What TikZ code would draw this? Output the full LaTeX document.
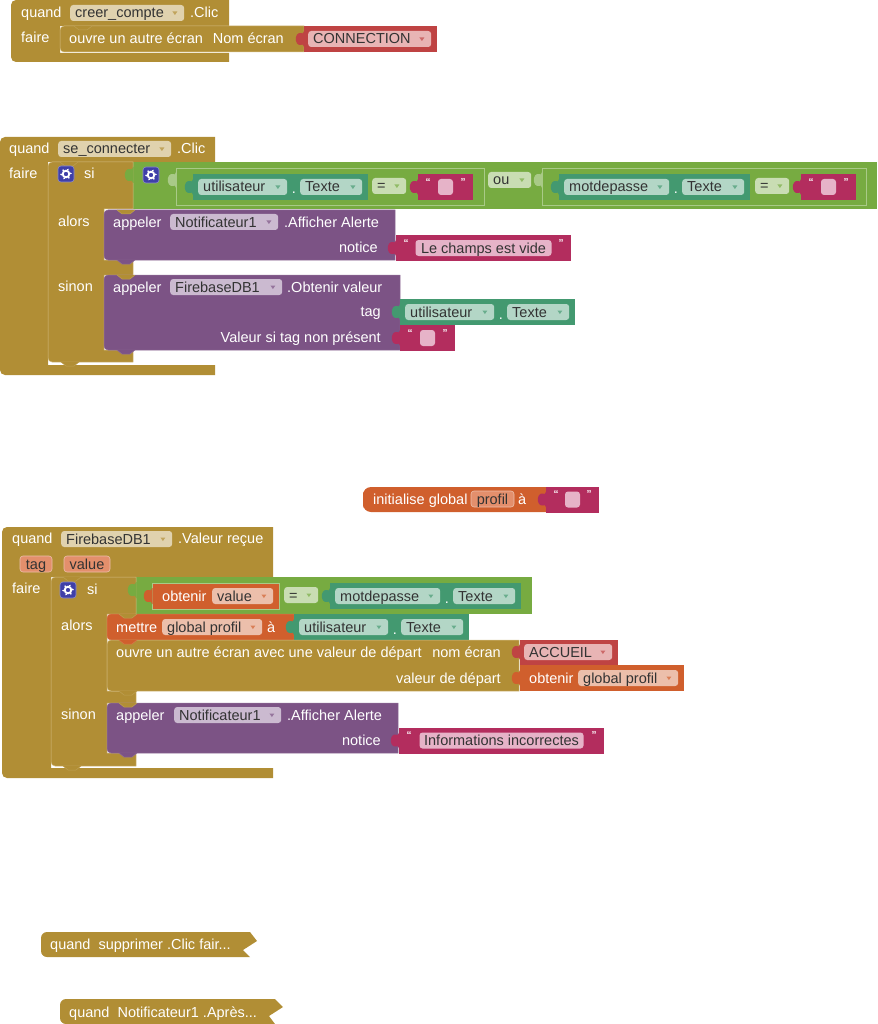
\documentclass[tikz,border=0pt]{standalone}
\usepackage{fontspec}
\setmainfont{Liberation Sans}
\definecolor{gold}{HTML}{B18E35}
\definecolor{goldl}{HTML}{D3BD84}
\definecolor{goldf}{HTML}{E0D2AE}
\definecolor{purp}{HTML}{7C5385}
\definecolor{purpf}{HTML}{CBBAD0}
\definecolor{crim}{HTML}{B32D5E}
\definecolor{crimf}{HTML}{E6B3C8}
\definecolor{redb}{HTML}{BF4343}
\definecolor{redf}{HTML}{E8B4B4}
\definecolor{teal}{HTML}{439970}
\definecolor{tealf}{HTML}{B3D6C6}
\definecolor{grn}{HTML}{77AB41}
\definecolor{grnl}{HTML}{A9CA87}
\definecolor{grnf}{HTML}{C9DDB3}
\definecolor{orng}{HTML}{D05F2D}
\definecolor{orngf}{HTML}{ECBFAB}
\definecolor{salm}{HTML}{E38F6C}
\definecolor{gearb}{HTML}{3F3FA8}
\tikzset{
  lab/.style={inner sep=0pt, text=white, font=\fontsize{14.5}{16}\selectfont, text height=11.5pt, text depth=1.5pt},
  lw/.style={lab, anchor=west},
  le/.style={lab, anchor=east},
  fld/.style={rounded corners=3pt, inner ysep=0pt, inner xsep=5pt, minimum height=16pt, text=black!80, anchor=west, font=\fontsize{14.5}{16}\selectfont, text height=11.5pt, text depth=1.5pt},
  quo/.style={inner sep=0pt, text=white, font=\fontsize{10}{10}\selectfont\bfseries}
}
% block parts
\newcommand{\stmt}[5]{\filldraw[fill=#5, draw=#5!85!white, line width=.5pt, rounded corners=4pt] (#1,#2+10) -- (#1,#2) [sharp corners] -- (#3,#2) -- (#3,#4) [rounded corners=4pt] -- (#1,#4) -- cycle;}
\newcommand{\plug}[3]{\fill[#3] (#1+.5,#2-8) -- (#1,#2-8) .. controls (#1-1,#2-5) and (#1-2,#2-5) .. (#1-3,#2-6) .. controls (#1-10,#2-7) and (#1-10,#2+7) .. (#1-3,#2+6) .. controls (#1-2,#2+5) and (#1-1,#2+5) .. (#1,#2+8) -- (#1+.5,#2+8) -- cycle;}
\newcommand{\bump}[3]{\filldraw[fill=#3, draw=#3!85!white, line width=.5pt] (#1-9,#2) -- (#1-4,#2+4) -- (#1+4,#2+4) -- (#1+9,#2);}
\newcommand{\fld}[7]{\node[fld, fill=#5, minimum width=#4pt] (#1) at (#2,#3) {\makebox[\dimexpr#4pt-10pt\relax][l]{#7}};
  \fill[#6!80!white] ([xshift=-12pt,yshift=1.5pt]#1.east) -- ([xshift=-7pt,yshift=1.5pt]#1.east) -- ([xshift=-9.5pt,yshift=-2pt]#1.east) -- cycle;}
\newcommand{\strblock}[6]{\fill[crim] (#2,#3-13) rectangle (#2+#4,#3+13);
  \plug{#2}{#3}{crim}
  \node[quo] (#1a) at (#2+10,#3-5) {“};
  \node[fld, fill=crimf, minimum width=#5pt, inner xsep=0pt, anchor=center] (#1) at (#2+#4/2,#3) {#6};
  \node[quo] (#1b) at (#2+#4-10,#3-5) {”};}
\newcommand{\propblock}[5]{\fill[teal] (#2,#3-13) rectangle (#2+#5+86,#3+13);
  \plug{#2}{#3}{teal}
  \fld{#1a}{#2+5}{#3}{#5}{tealf}{teal}{#4}
  \node[lab] (#1d) at (#2+#5+12,#3+2) {.};
  \fld{#1b}{#2+#5+18}{#3}{62}{tealf}{teal}{Texte}}
\newcommand{\gear}[3]{\node[fill=gearb, draw=gearb!60!white, line width=.6pt, rounded corners=3pt, minimum size=16pt, inner sep=0pt] (#1) at (#2,#3) {};
  \draw[white, line width=1.9pt] (#2,#3) circle (3.3pt);
  \foreach \a in {0,60,...,300} {\fill[white] (#2,#3) ++(\a:3.4pt) -- ++(\a+50:2pt) -- ++(\a-50:2pt) -- cycle;}}

\begin{document}
\begin{tikzpicture}[x=1pt, y=-1pt]
\useasboundingbox (0,0) rectangle (877,1024);
% creer_compte
\fill[gold, rounded corners=5pt] (11,30) -- (11,0) [sharp corners] -- (229,0) -- (229,26) -- (60,26) -- (60,53) -- (229,53) -- (229,62) [rounded corners=5pt] -- (11,62) -- cycle;
\filldraw[fill=gold, draw=goldl, line width=.5pt, rounded corners=4pt] (60,36) -- (60,26) [sharp corners] -- (304,26) -- (304,52) [rounded corners=4pt] -- (60,52) -- cycle;
\bump{83}{26}{gold}
\fill[redb] (304,26) rectangle (437,52);
\plug{304}{39}{redb}
\node[lw] (q1) at (21,13) {quand};
\fld{f1}{70}{13}{114}{goldf}{gold}{creer\_compte}
\node[lw] (c1) at (190,13) {.Clic};
\node[lw] (fa1) at (21,38) {faire};
\node[lw] (ouv1) at (69,39) {ouvre un autre écran};
\node[le] (nom1) at (284,39) {Nom écran};
\fld{f2}{308}{39}{123}{redf}{redb}{CONNECTION}
% se_connecter
\fill[gold, rounded corners=5pt] (0,150) -- (0,137) [sharp corners] -- (215,137) -- (215,162) -- (48,162) -- (48,365) -- (215,365) -- (215,375) [rounded corners=5pt] -- (0,375) -- cycle;
\fill[grn] (133,162) rectangle (877,209);
\filldraw[fill=gold, draw=goldl, line width=.5pt, rounded corners=4pt] (48,175) -- (48,162) [sharp corners] -- (133,162) -- (133,209) -- (104,209) -- (104,260) -- (133,260) -- (133,275) -- (104,275) -- (104,350) -- (133,350) -- (133,362) [rounded corners=4pt] -- (48,362) -- cycle;
\plug{133}{175}{grn}
\bump{69}{162}{gold}
\bump{70}{362}{gold}
\gear{g1}{66}{174}
\gear{g2}{151}{175}
\node[lw] (q2) at (9,149) {quand};
\fld{f3}{58}{149}{113}{goldf}{gold}{se\_connecter}
\node[lw] (c2) at (177,149) {.Clic};
\node[lw] (fa2) at (9,174) {faire};
\node[lw] (si1) at (84,174) {si};
\node[lw] (al1) at (58,221) {alors};
\node[lw] (sn1) at (58,286) {sinon};
% premier test
\filldraw[fill=grn, draw=grnl, line width=.6pt] (176,168) rectangle (484,205);
\plug{176}{180}{grnl}
\propblock{p1}{193}{187}{utilisateur}{89}
\fld{e1}{372}{186}{34}{grnf}{grn}{=}
\strblock{s1}{418}{187}{55}{15}{}
\fld{ou1}{488}{180}{43}{grnf}{grn}{ou}
% second test
\filldraw[fill=grn, draw=grnl, line width=.6pt] (542,168) rectangle (866,205);
\plug{542}{180}{grnl}
\propblock{p2}{559}{187}{motdepasse}{105}
\fld{e2}{755}{186}{34}{grnf}{grn}{=}
\strblock{s2}{801}{187}{55}{15}{}
% alors
\stmt{104}{210}{395}{260}{purp}
\bump{126}{210}{gold}
\bump{126}{260}{purp}
\node[lw] (ap1) at (113,222) {appeler};
\fld{f4}{170}{222}{108}{purpf}{purp}{Notificateur1}
\node[lw] (af1) at (284,222) {.Afficher Alerte};
\node[le] (no1) at (378,247) {notice};
\strblock{s3}{396}{248}{175}{136}{Le champs est vide}
% sinon
\stmt{104}{275}{400}{350}{purp}
\bump{126}{275}{gold}
\bump{126}{350}{purp}
\node[lw] (ap2) at (113,287) {appeler};
\fld{f5}{170}{287}{112}{purpf}{purp}{FirebaseDB1}
\node[lw] (ob1) at (287,287) {.Obtenir valeur};
\node[le] (ta1) at (381,311) {tag};
\node[le] (va1) at (381,337) {Valeur si tag non présent};
\propblock{p3}{400}{312}{utilisateur}{89}
\strblock{s4}{400}{338}{55}{15}{}
% initialise
\fill[orng, rounded corners=8pt] (363,500) -- (363,487) [sharp corners] -- (546,487) -- (546,512) [rounded corners=8pt] -- (363,512) -- cycle;
\node[lw] (in1) at (373,499) {initialise global};
\node[fld, fill=salm, draw=orngf, line width=.6pt, minimum width=43pt, inner xsep=0pt, anchor=center] (pr1) at (492.5,499) {profil};
\node[lw] (a1) at (518,499) {à};
\strblock{s5}{546}{499.5}{53}{15}{}
% FirebaseDB1
\fill[gold, rounded corners=5pt] (2,540) -- (2,527) [sharp corners] -- (273,527) -- (273,577) -- (51,577) -- (51,768) -- (273,768) -- (273,778) [rounded corners=5pt] -- (2,778) -- cycle;
\fill[grn] (136,577) rectangle (532,614);
\filldraw[fill=gold, draw=goldl, line width=.5pt, rounded corners=4pt] (51,590) -- (51,577) [sharp corners] -- (136,577) -- (136,614) -- (107,614) -- (107,691) -- (136,691) -- (136,703) -- (107,703) -- (107,753) -- (136,753) -- (136,766) [rounded corners=4pt] -- (51,766) -- cycle;
\plug{136}{590}{grn}
\bump{72}{577}{gold}
\bump{72}{766}{gold}
\gear{g3}{68}{590}
\node[lw] (q3) at (12,538) {quand};
\fld{f6}{61}{539}{111}{goldf}{gold}{FirebaseDB1}
\node[lw] (vr1) at (178,538) {.Valeur reçue};
\node[fld, fill=salm, draw=orngf, line width=.6pt, minimum width=32pt, inner xsep=0pt, anchor=center] (tg1) at (36,564) {tag};
\node[fld, fill=salm, draw=orngf, line width=.6pt, minimum width=46pt, inner xsep=0pt, anchor=center] (vl1) at (87,564) {value};
\node[lw] (fa3) at (12,588) {faire};
\node[lw] (si2) at (87,589) {si};
\node[lw] (al2) at (61,625) {alors};
\node[lw] (sn2) at (61,714) {sinon};
% test
\filldraw[fill=orng, draw=grnl, line width=.5pt] (152,583) rectangle (279,609);
\plug{152}{596}{orng}
\node[lw] (ob2) at (162,596) {obtenir};
\fld{f7}{212}{596}{61}{orngf}{orng}{value}
\fld{e3}{284}{595}{34}{grnf}{grn}{=}
\propblock{p4}{330}{596}{motdepasse}{105}
% mettre
\stmt{107}{614}{294}{640}{orng}
\node[lw] (me1) at (116,627) {mettre};
\fld{f8}{162}{627}{100}{orngf}{orng}{global profil}
\node[lw] (a2) at (267,627) {à};
\propblock{p5}{294}{627}{utilisateur}{89}
% ouvre
\filldraw[fill=gold, draw=goldl, line width=.5pt, rounded corners=4pt] (107,650) -- (107,640) [sharp corners] -- (519,640) -- (519,691) [rounded corners=4pt] -- (107,691) -- cycle;
\bump{128}{614}{gold}
\bump{128}{640}{orng}
\bump{128}{691}{gold}
\node[lw] (ouv2) at (116,652) {ouvre un autre écran avec une valeur de départ};
\node[le] (nom2) at (501,652) {nom écran};
\node[le] (vd1) at (501,678) {valeur de départ};
\fill[redb] (520,640) rectangle (618,665);
\plug{520}{652}{redb}
\fld{f9}{524}{652}{88}{redf}{redb}{ACCUEIL}
\fill[orng] (520,665) rectangle (684,691);
\plug{520}{678}{orng}
\node[lw] (ob3) at (529,678) {obtenir};
\fld{f10}{578}{678}{100}{orngf}{orng}{global profil}
% sinon
\stmt{107}{703}{398}{753}{purp}
\bump{128}{703}{gold}
\bump{128}{753}{purp}
\node[lw] (ap3) at (116,715) {appeler};
\fld{f11}{174}{715}{107}{purpf}{purp}{Notificateur1}
\node[lw] (af2) at (287,715) {.Afficher Alerte};
\node[le] (no2) at (381,740) {notice};
\strblock{s6}{399}{740.5}{205}{164}{Informations incorrectes}
% replies
\fill[gold, rounded corners=6pt] (41,945) -- (41,932) [sharp corners] -- (250,932) -- (257,941) -- (243,950) -- (250,957) [rounded corners=6pt] -- (41,957) -- cycle;
\node[lw] (cl1) at (50,944) {quand\ \ supprimer .Clic fair...};
\fill[gold, rounded corners=6pt] (60,1012) -- (60,999) [sharp corners] -- (275,999) -- (283,1007) -- (269,1016) -- (275,1024) [rounded corners=6pt] -- (60,1024) -- cycle;
\node[lw] (cl2) at (69,1012) {quand\ \ Notificateur1 .Après...};
\end{tikzpicture}
\end{document}
